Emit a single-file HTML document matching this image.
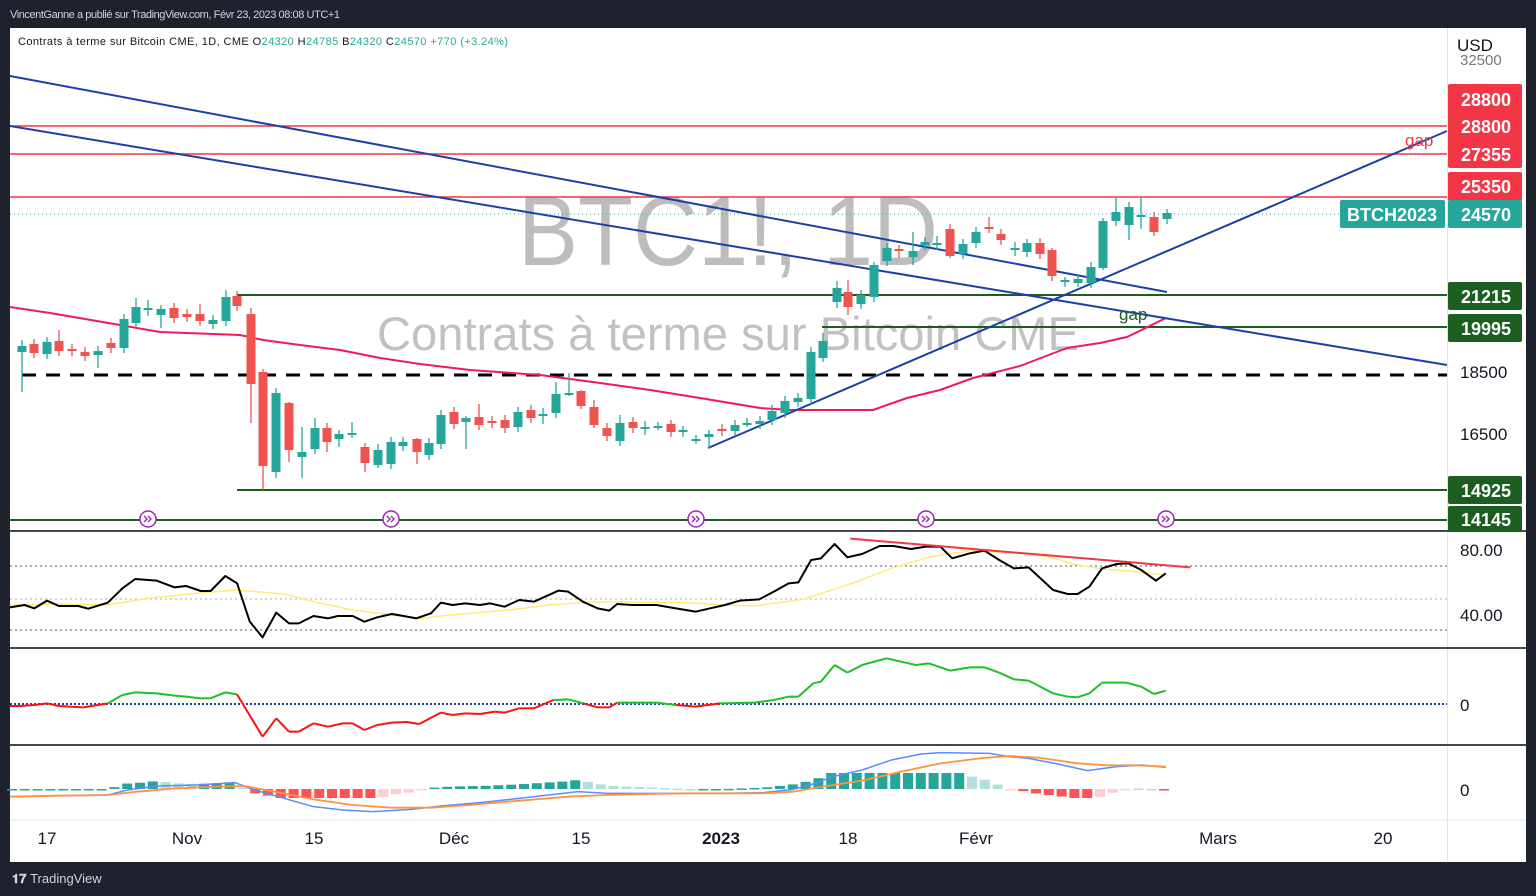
<!DOCTYPE html>
<html><head><meta charset="utf-8"><style>
html,body{margin:0;padding:0;background:#1e222d;}
body{width:1536px;height:896px;overflow:hidden;position:relative;font-family:"Liberation Sans",sans-serif;}
svg{position:absolute;left:0;top:0;}
</style></head><body>
<svg id="s" width="1536" height="896" xmlns="http://www.w3.org/2000/svg">
<rect x="0" y="0" width="1536" height="896" fill="#1e222d"/>
<rect x="10" y="28" width="1516" height="834" fill="#ffffff"/>
<text x="10" y="18" fill="#d1d4dc" font-size="11" textLength="330">VincentGanne a publié sur TradingView.com, Févr 23, 2023 08:08 UTC+1</text>
<!-- watermark -->
<text x="728" y="265" text-anchor="middle" font-size="98" fill="#b2b2b2" fill-opacity="0.85" textLength="420" lengthAdjust="spacingAndGlyphs">BTC1!, 1D</text>
<text x="728" y="350" text-anchor="middle" font-size="47" fill="#b2b2b2" fill-opacity="0.8" textLength="702" lengthAdjust="spacingAndGlyphs">Contrats à terme sur Bitcoin CME</text>
<g id="g"></g>
<!-- axis -->
<line x1="1447.5" y1="28" x2="1447.5" y2="862" stroke="#e0e3eb"/>
<line x1="10" y1="531" x2="1526" y2="531" stroke="#434651" stroke-width="2"/>
<line x1="10" y1="648" x2="1526" y2="648" stroke="#434651" stroke-width="2"/>
<line x1="10" y1="745" x2="1526" y2="745" stroke="#434651" stroke-width="2"/>
<line x1="10" y1="820" x2="1526" y2="820" stroke="#e0e3eb"/>
<g font-size="17" fill="#131722">
<text x="1457" y="51">USD</text>
<text x="1460" y="65" fill="#777" font-size="15">32500</text>
<text x="1460" y="378">18500</text>
<text x="1460" y="440">16500</text>
<text x="1460" y="556">80.00</text>
<text x="1460" y="621">40.00</text>
<text x="1460" y="711">0</text>
<text x="1460" y="796">0</text>
<text x="47" y="844" text-anchor="middle">17</text>
<text x="187" y="844" text-anchor="middle">Nov</text>
<text x="314" y="844" text-anchor="middle">15</text>
<text x="454" y="844" text-anchor="middle">Déc</text>
<text x="581" y="844" text-anchor="middle">15</text>
<text x="721" y="844" text-anchor="middle" font-weight="bold">2023</text>
<text x="848" y="844" text-anchor="middle">18</text>
<text x="976" y="844" text-anchor="middle">Févr</text>
<text x="1218" y="844" text-anchor="middle">Mars</text>
<text x="1383" y="844" text-anchor="middle">20</text>
</g>
<g font-size="18" fill="#fff" font-weight="bold" text-anchor="middle">
<rect x="1448" y="84" width="74" height="84" rx="2" fill="#f23645"/>
<text x="1486" y="106">28800</text><text x="1486" y="133">28800</text><text x="1486" y="161">27355</text>
<rect x="1448" y="172" width="74" height="29" rx="2" fill="#f23645"/><text x="1486" y="193">25350</text>
<rect x="1448" y="200" width="74" height="28" rx="2" fill="#26a69a"/><text x="1486" y="221">24570</text>
<rect x="1340" y="200" width="105" height="28" rx="2" fill="#26a69a"/><text x="1392" y="221">BTCH2023</text>
<rect x="1448" y="282" width="74" height="28" rx="2" fill="#1b5e20"/><text x="1486" y="303">21215</text>
<rect x="1448" y="314" width="74" height="28" rx="2" fill="#1b5e20"/><text x="1486" y="335">19995</text>
<rect x="1448" y="476" width="74" height="28" rx="2" fill="#1b5e20"/><text x="1486" y="497">14925</text>
<rect x="1448" y="506" width="74" height="26" rx="2" fill="#1b5e20"/><text x="1486" y="526">14145</text>
</g>
<rect x="10" y="30" width="520" height="22" fill="#fff"/>
<text x="18" y="45" font-size="11" fill="#131722" textLength="490">Contrats à terme sur Bitcoin CME, 1D, CME  O<tspan fill="#26a69a">24320</tspan>  H<tspan fill="#26a69a">24785</tspan>  B<tspan fill="#26a69a">24320</tspan>  C<tspan fill="#26a69a">24570</tspan>  <tspan fill="#26a69a">+770 (+3.24%)</tspan></text>
<text x="12" y="883" font-size="13" fill="#d1d4dc" font-weight="bold">𝟏𝟕 <tspan font-weight="normal">TradingView</tspan></text>
</svg>
<script>
const g=document.getElementById('g');const NS='http://www.w3.org/2000/svg';
function el(t,a){const e=document.createElementNS(NS,t);for(const k in a)e.setAttribute(k,a[k]);g.appendChild(e);return e;}
function line(x1,y1,x2,y2,c,w,d){const a={x1,y1,x2,y2,stroke:c,'stroke-width':w||1.5};if(d)a['stroke-dasharray']=d;el('line',a);}
function poly(pts,c,w){el('polyline',{points:pts.map(p=>p.join(',')).join(' '),fill:'none',stroke:c,'stroke-width':w||2,'stroke-linejoin':'round'});}
line(10,126,1447,126,'#f23645',1.5);line(10,154,1447,154,'#f23645',1.5);line(10,197,1447,197,'#f23645',1.5);
line(10,214,1340,214,'#26a69a',1,'1 3');
line(237,295,1447,295,'#1b5e20',2);line(822,327,1447,327,'#1b5e20',2);
line(237,490,1447,490,'#1b5e20',2);line(10,520,1447,520,'#1b5e20',2);
line(22,375,1447,375,'#000',3,'14 10');
poly([[10,307],[50,313],[120,325],[160,332],[240,335],[263,340],[300,345],[340,350],[380,358],[420,364],[470,370],[540,375],[600,383],[650,390],[700,398],[760,408],[790,410],[873,410],[890,404],[907,398],[940,390],[973,378],[1020,366],[1067,348],[1100,343],[1127,337],[1166,318]],'#f0185f',2);
line(10,76,1167,292,'#1c3fa8',2);line(10,126,1447,365,'#1c3fa8',2);line(708,448,1447,131,'#1c3fa8',2);
const C=[[22,352,346,340,392],[34,344,353],[47,354,342],[59,341,351,330],[72,349,351],[85,352,356],[98,355,351,0,368],[111,343,348],[124,348,319],[136,323,307,298],[148,308,308,300,316],[161,315,309,305,328],[174,308,318],[187,314,317],[200,314,321,304],[213,324,320],[226,321,297,290],[237,296,306],[251,314,384,308,423],[263,372,466,369,490],[276,472,393,388,478],[289,403,450,402,462],[302,457,452,427,478],[315,449,428,418],[327,428,442,423,452],[339,439,434,430,447],[352,433,433,422,438],[365,447,463,443,472],[378,465,450,444,468],[391,464,442],
[403,446,442],[417,439,452,438,464],[429,455,443],[441,444,415],[454,412,424],[466,422,418,416,449],[479,417,425,404],[492,421,423],[505,420,428],[518,427,412],[531,410,418],[543,414,414,408,424],[556,413,394,382],[569,393,393,373,396],[581,391,406,390,409],[594,407,425,400,428],[607,428,436],[620,441,423,415],[633,422,428],[645,427,427,421,435],[658,426,426,422,430],[671,424,432,420],[683,430,430,426,437],[696,439,439,435,444],[709,437,434,430,448],[722,429,431],[735,431,425],[747,423,423,418,427],[760,424,421],[772,420,411,405],[785,413,401],[798,402,398],
[811,399,352],[823,358,341,333,362],[837,302,288,281,308],[848,292,307,280,315],[861,304,295],[874,297,265,262,302],[887,261,248],[899,249,251,245,258],[913,257,251,232,265],[925,245,242],[937,243,243,236,250],[950,229,256,224,258],[963,254,244],[976,243,232],[989,227,229,217,233],[1001,234,240],[1015,248,248,242,256],[1027,252,243,239,257],[1040,243,254],[1052,250,276,248,281],[1065,280,280,277,287],[1078,283,279,0,287],[1091,283,267],[1103,268,221,218,270],[1116,221,212,197],[1129,225,207,202,240],[1141,215,215,197,229],[1154,217,232,0,236],[1167,219,213,209]];
C.forEach(r=>{let [x,o,c,h,l]=r;const up=c<=o;const col=up?'#26a69a':'#ef5350';const t=Math.min(o,c),b=Math.max(o,c);h=h||t-5;l=l||b+5;
line(x,h,x,l,col,1.3);el('rect',{x:x-4.5,y:t,width:9,height:Math.max(b-t,2),fill:col});});
el('text',{x:1405,y:146,fill:'#f23645','font-size':'17'}).textContent='gap';
el('text',{x:1119,y:320,fill:'#1b5e20','font-size':'17'}).textContent='gap';
[148,391,696,926,1166].forEach(x=>{el('circle',{cx:x,cy:519,r:8,fill:'#fff',stroke:'#9c27b0','stroke-width':1.5});
el('path',{d:`M${x-4} ${519-3} l3 3 l-3 3 M${x} ${519-3} l3 3 l-3 3`,stroke:'#9c27b0',fill:'none','stroke-width':1.4});});
const T=p=>p.map(([a,b])=>[a/1.0208,530+b/3]);
line(10,566,1447,566,'#555',1,'2 3');line(10,599,1447,599,'#aaa',1,'2 3');line(10,630,1447,630,'#555',1,'2 3');
poly(T([[10,225],[60,222],[110,225],[150,205],[200,190],[240,180],[290,192],[320,215],[360,240],[400,255],[430,265],[460,255],[520,240],[560,225],[610,215],[700,218],[740,225],[770,228],[820,208],[870,160],[910,115],[950,80],[990,62],[1040,70],[1070,80],[1100,105],[1130,118],[1160,125],[1190,135]]),'#ffeb7a',1.5);
poly(T([[10,232],[25,225],[35,235],[48,212],[60,228],[80,228],[90,236],[110,218],[125,175],[138,147],[160,152],[178,172],[190,168],[205,183],[215,183],[230,138],[242,160],[255,275],[268,322],[282,248],[295,280],[305,280],[320,258],[335,265],[345,258],[360,258],[372,275],[385,262],[400,252],[412,258],[425,265],[440,250],[450,218],[462,225],[475,220],[490,225],[500,220],[515,230],[530,210],[545,215],[570,182],[580,185],[595,215],[610,235],[622,242],[630,222],[645,225],[670,225],[690,235],[710,245],[725,235],[740,225],[755,212],[775,208],[790,185],[805,160],[815,157],[828,90],[838,85],[852,42],[865,82],[880,72],[898,48],[912,48],[930,57],[945,50],[960,50],[972,85],[990,70],[1005,62],[1020,90],[1035,115],[1050,112],[1075,180],[1090,192],[1100,192],[1112,170],[1125,115],[1140,102],[1152,100],[1165,120],[1180,152],[1190,130]]),'#000',2);
poly(T([[868,26],[1215,112]]),'#f23645',2);
line(10,704,1447,704,'#1c3fa8',2,'2 2');
const P2=T([[10,528],[20,528],[35,525],[48,520],[60,528],[85,532],[110,520],[125,495],[138,487],[160,490],[178,497],[190,500],[205,505],[215,505],[230,487],[242,493],[268,620],[282,565],[295,605],[305,605],[320,580],[335,590],[350,580],[360,580],[372,600],[385,585],[400,578],[415,576],[428,582],[450,548],[462,555],[475,550],[490,552],[505,545],[515,548],[530,535],[545,535],[565,510],[580,508],[595,520],[610,532],[622,532],[630,518],[670,518],[690,525],[710,530],[735,520],[770,518],[790,510],[805,500],[815,500],[830,460],[838,455],[852,405],[865,428],[880,405],[905,385],[920,395],[935,405],[948,400],[970,422],[990,412],[1005,412],[1020,428],[1035,448],[1050,452],[1075,490],[1090,500],[1100,502],[1112,490],[1125,458],[1150,458],[1165,470],[1178,492],[1190,482]]);
for(let i=1;i<P2.length;i++){const m=(P2[i][1]+P2[i-1][1])/2;poly([P2[i-1],P2[i]],m<=704?'#1fbf2a':'#ff1010',2);}
const B=T([[10,800],[60,797],[110,795],[130,780],[160,768],[200,765],[240,758],[260,780],[290,805],[320,830],[350,840],[380,845],[420,838],[450,828],[490,818],[530,805],[560,795],[590,785],[620,790],[740,790],[780,788],[810,778],[830,762],[850,740],[880,720],[910,690],[940,672],[960,668],[1010,670],[1030,680],[1050,685],[1080,702],[1110,722],[1140,710],[1165,705],[1190,712]]);
const O=T([[10,800],[60,797],[110,795],[140,785],[180,775],[220,770],[250,768],[280,785],[320,808],[360,825],[400,833],[440,833],[480,825],[530,812],[580,800],[620,795],[700,790],[780,790],[810,785],[840,770],[880,752],[920,725],[960,700],[1000,685],[1030,678],[1060,683],[1100,700],[1130,706],[1160,706],[1190,710]]);
function iy(P,x){for(let i=1;i<P.length;i++){if(x<=P[i][0]){const t=(x-P[i-1][0])/(P[i][0]-P[i-1][0]);return P[i-1][1]+t*(P[i][1]-P[i-1][1]);}}return P[P.length-1][1];}
let prev=0;
for(let x=12;x<=1166;x+=12.8){let h=(iy(O,x)-iy(B,x))*2.0;h=Math.max(-9,Math.min(16,h));const grow=Math.abs(h)>=Math.abs(prev);let col=h>=0?(grow?'#26a69a':'#b2dfdb'):(grow?'#ff5252':'#ffcdd2');
el('rect',{x:x-5,y:h>=0?789-h:789,width:10,height:Math.max(Math.abs(h),1.5),fill:col});prev=h;}
poly(B,'#5b8cff',1.5);poly(O,'#ff9340',1.8);
</script>
</body></html>
